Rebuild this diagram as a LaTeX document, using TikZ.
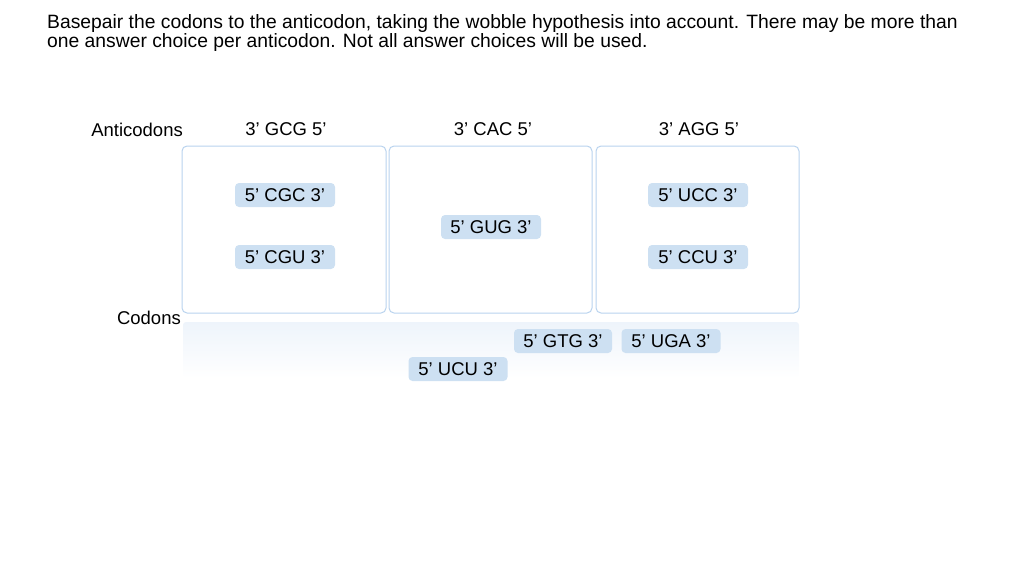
\documentclass[tikz,border=0pt]{standalone}
\usepackage{fontspec}
\setmainfont{Liberation Sans}
\usetikzlibrary{shadings}
\newcommand\qq{\char39\relax}
\definecolor{chipc}{HTML}{CDE0F2}
\definecolor{boxc}{HTML}{B9D3EE}
\definecolor{bandc}{HTML}{EEF4FB}
\begin{document}
\begin{tikzpicture}[x=1pt,y=-1pt,
  chip/.style={fill=chipc,rounded corners=4pt,minimum width=100pt,minimum height=24pt,inner sep=0pt,font=\fontsize{18.5}{20}\selectfont},
  zone/.style={draw=boxc,line width=1pt,rounded corners=5pt},
  lab/.style={font=\fontsize{18.5}{20}\selectfont,inner sep=0pt}]
\useasboundingbox (0,0) rectangle (1024,573);
\node[lab,anchor=north west,align=left,font=\fontsize{19.3}{19.5}\selectfont] (title) at (47,14) {Basepair the codons to the anticodon, taking the wobble hypothesis into account. There may be more than\\one answer choice per anticodon. Not all answer choices will be used.};
\node[lab,anchor=east] (ac) at (183,130) {Anticodons};
\node[lab,anchor=east] (co) at (181,318) {Codons};
\node[lab] (h1) at (286,129) {3\qq{} GCG 5\qq};
\node[lab] (h2) at (493,129) {3\qq{} CAC 5\qq};
\node[lab] (h3) at (699,129) {3\qq{} AGG 5\qq};
\draw[zone] (182,146) rectangle (386,313);
\draw[zone] (389,146) rectangle (592,313);
\draw[zone] (596,146) rectangle (799,313);
\shade[top color=bandc,bottom color=white,rounded corners=3pt] (183,322) rectangle (799,378);
\node[chip] (c1) at (285,195) {5\qq{} CGC 3\qq};
\node[chip] (c2) at (285,257) {5\qq{} CGU 3\qq};
\node[chip] (c3) at (491,227) {5\qq{} GUG 3\qq};
\node[chip] (c4) at (698,195) {5\qq{} UCC 3\qq};
\node[chip] (c5) at (698,257) {5\qq{} CCU 3\qq};
\node[chip,minimum width=98pt] (c6) at (563,341) {5\qq{} GTG 3\qq};
\node[chip,minimum width=99pt] (c7) at (671,341) {5\qq{} UGA 3\qq};
\node[chip,minimum width=99pt] (c8) at (458,369) {5\qq{} UCU 3\qq};
\end{tikzpicture}
\end{document}
